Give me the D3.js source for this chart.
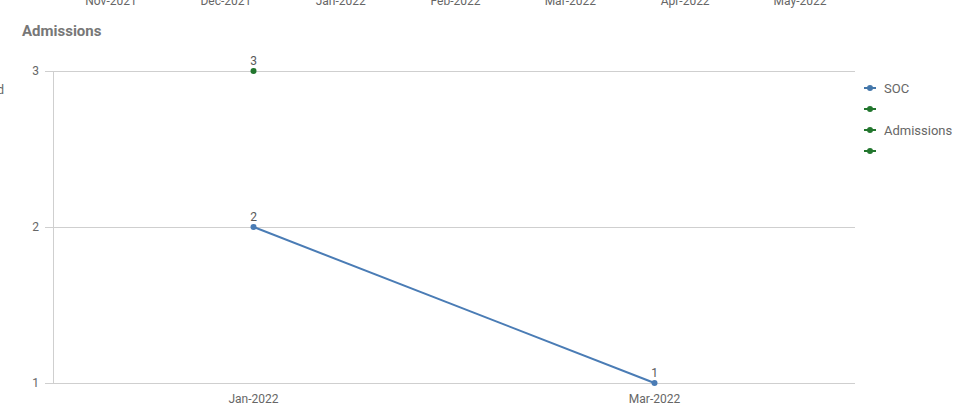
<!DOCTYPE html>
<html>
<head>
<meta charset="utf-8">
<script src="https://cdn.jsdelivr.net/npm/d3@7"></script>
<style>
  body { margin: 0; background: #fff; }
  svg { display: block; font-family: "Roboto", "DejaVu Sans", sans-serif; }
</style>
</head>
<body>
<svg id="chart" width="958" height="419"></svg>
<script>
// cut-off month row from the chart above
const topMonths = ["Nov-2021", "Dec-2021", "Jan-2022", "Feb-2022", "Mar-2022", "Apr-2022", "May-2022"]

const months = ["Jan-2022", "Mar-2022"]
const yTicks = [1, 2, 3]
const socValues = [2, 1]
const admissionsValues = [3, null]
const legendLabels = ["SOC", "", "Admissions", ""]
const legendColors = ["#4477aa", "#22762e", "#22762e", "#22762e"]

const BLUE = "#4a7cb5"
const GREEN = "#22762e"
const GRID = "#cfcfcf"
const TEXT = "#666"

const svg = d3.select("#chart")
const width = 958, height = 419
const margin = {top: 71, right: 103, bottom: 36, left: 53}
const innerW = width - margin.left - margin.right
const innerH = height - margin.top - margin.bottom

// top month row (partly off the page, as in the source)
const xTop = d3.scalePoint().domain(topMonths).range([111, 800])
svg.append("g")
  .selectAll("text")
  .data(topMonths)
  .join("text")
  .attr("x", d => xTop(d))
  .attr("y", 5)
  .attr("text-anchor", "middle")
  .attr("font-size", 12)
  .attr("fill", TEXT)
  .text(d => d)

// title
svg.append("text")
  .attr("x", 22)
  .attr("y", 36)
  .attr("font-size", 15)
  .attr("font-weight", "bold")
  .attr("fill", "#777")
  .text("Admissions")

// clipped y axis title
svg.append("text")
  .attr("x", 4)
  .attr("y", 94)
  .attr("text-anchor", "end")
  .attr("font-size", 12)
  .attr("fill", TEXT)
  .text("Sold")

const x = d3.scaleBand().domain(months).range([0, innerW]).padding(0)
const y = d3.scaleLinear().domain([1, 3]).range([innerH, 0])

const g = svg.append("g")
  .attr("transform", `translate(${margin.left},${margin.top})`)

// gridlines
g.append("g")
  .selectAll("line")
  .data(yTicks)
  .join("line")
  .attr("x1", -8)
  .attr("x2", innerW)
  .attr("y1", d => y(d))
  .attr("y2", d => y(d))
  .attr("stroke", GRID)
  .attr("shape-rendering", "crispEdges")

// y axis line
g.append("line")
  .attr("x1", 0).attr("x2", 0)
  .attr("y1", 0).attr("y2", innerH)
  .attr("stroke", GRID)
  .attr("shape-rendering", "crispEdges")

// y tick labels
g.append("g")
  .selectAll("text")
  .data(yTicks)
  .join("text")
  .attr("x", -14)
  .attr("y", d => y(d))
  .attr("dy", "0.35em")
  .attr("text-anchor", "end")
  .attr("font-size", 12)
  .attr("fill", TEXT)
  .text(d => d)

// x tick labels
g.append("g")
  .selectAll("text")
  .data(months)
  .join("text")
  .attr("x", d => x(d) + x.bandwidth() / 2)
  .attr("y", innerH + 20)
  .attr("text-anchor", "middle")
  .attr("font-size", 12)
  .attr("fill", TEXT)
  .text(d => d)

const cx = d => x(d) + x.bandwidth() / 2

function drawSeries(values, color) {
  const pts = months.map((m, i) => ({m, v: values[i]})).filter(d => d.v != null)
  const line = d3.line().x(d => cx(d.m)).y(d => y(d.v))
  g.append("path")
    .datum(pts)
    .attr("d", line)
    .attr("fill", "none")
    .attr("stroke", color)
    .attr("stroke-width", 2)
  g.append("g")
    .selectAll("circle")
    .data(pts)
    .join("circle")
    .attr("cx", d => cx(d.m))
    .attr("cy", d => y(d.v))
    .attr("r", 3)
    .attr("fill", color)
  g.append("g")
    .selectAll("text")
    .data(pts)
    .join("text")
    .attr("x", d => cx(d.m))
    .attr("y", d => y(d.v) - 6)
    .attr("text-anchor", "middle")
    .attr("font-size", 12)
    .attr("fill", "#595959")
    .text(d => d.v)
}

drawSeries(socValues, BLUE)
drawSeries(admissionsValues, GREEN)

// legend
const legend = svg.append("g").attr("transform", "translate(864,88)")
const item = legend.selectAll("g")
  .data(legendLabels)
  .join("g")
  .attr("transform", (d, i) => `translate(0,${i * 21})`)
item.append("line")
  .attr("x1", 0).attr("x2", 12)
  .attr("stroke", (d, i) => legendColors[i])
  .attr("stroke-width", 2)
item.append("circle")
  .attr("cx", 6)
  .attr("r", 3)
  .attr("fill", (d, i) => legendColors[i])
item.append("text")
  .attr("x", 20)
  .attr("dy", "0.35em")
  .attr("font-size", 13)
  .attr("fill", TEXT)
  .text(d => d)
</script>
</body>
</html>
